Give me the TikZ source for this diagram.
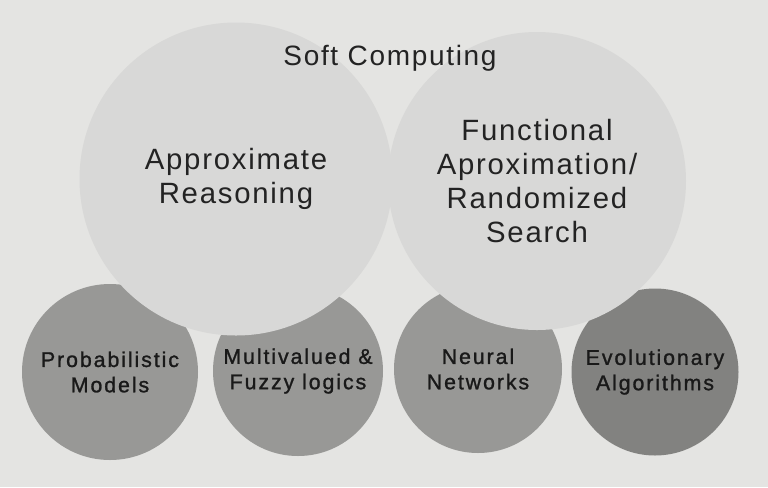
\documentclass[tikz,border=0pt]{standalone}
\usepackage{fontspec}
\setmainfont{Liberation Sans}
\newfontfamily\widefont[LetterSpace=6]{Liberation Sans}
\newfontfamily\labelfont[LetterSpace=9,FakeBold=1.2]{Liberation Sans}
\definecolor{paper}{RGB}{228,228,226}
\definecolor{bigdisc}{RGB}{216,216,215}
\definecolor{smalldisc}{RGB}{152,152,150}
\definecolor{darkdisc}{RGB}{130,130,128}
\definecolor{ink}{RGB}{35,35,35}
\begin{document}
\begin{tikzpicture}[x=0.75pt,y=-0.75pt,
    bigcircle/.style={circle,fill=bigdisc,inner sep=0pt,align=center,text=ink,font=\widefont\fontsize{22}{25.5}\selectfont},
    smallcircle/.style={circle,fill=smalldisc,inner sep=0pt,align=center,text=black!90,font=\labelfont\fontsize{16}{19}\selectfont}]
        \fill[paper] (0,0) rectangle (768,487);

        \node[smallcircle,minimum size=176*0.75pt] (prob) at (110,372) {Probabilistic\\Models};
        \node[smallcircle,minimum size=170*0.75pt] (multi) at (298,371) {Multivalued \&\\Fuzzy logics};
        \node[smallcircle,minimum size=168*0.75pt] (neural) at (478,369) {Neural\\Networks};
        \node[smallcircle,fill=darkdisc,minimum size=167*0.75pt] (evol) at (655,372) {Evolutionary\\Algorithms};

        \node[bigcircle,minimum size=313*0.75pt] (approx) at (236,179) {Approximate\\Reasoning};
        \node[bigcircle,minimum size=298*0.75pt] (func) at (537,181) {Functional\\Aproximation/\\Randomized\\Search};

        \node[text=ink,font=\widefont\fontsize{21}{24}\selectfont] (soft) at (390,58) {Soft Computing};
    \end{tikzpicture}
\end{document}
